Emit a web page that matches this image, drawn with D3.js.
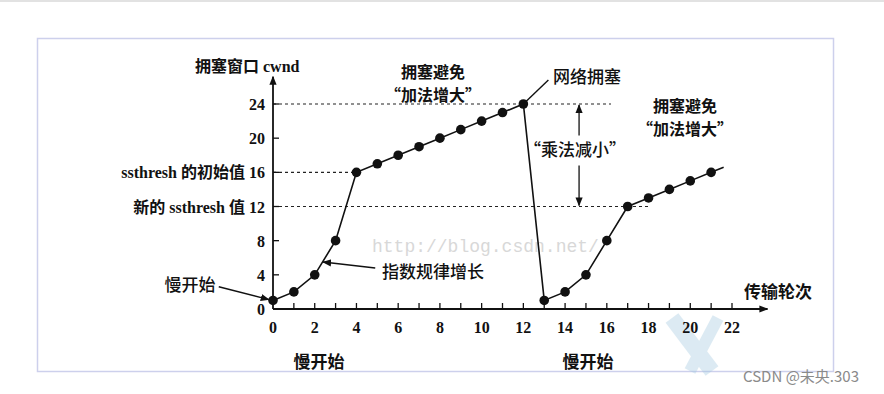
<!DOCTYPE html>
<html><head><meta charset="utf-8">
<script src="https://cdn.jsdelivr.net/npm/d3@7/dist/d3.min.js"></script>
<style>
html,body{margin:0;padding:0;background:#fff;}
svg{display:block;}
</style></head>
<body>
<svg id="chart" width="884" height="394"></svg>
<script>
// ---- data ----
const rounds = [0,1,2,3,4,5,6,7,8,9,10,11,12,13,14,15,16,17,18,19,20,21];
const cwnd   = [1,2,4,8,16,17,18,19,20,21,22,23,24,1,2,4,8,12,13,14,15,16];
const lineTail = [21.6, 16.6];           // line continues past last point
const xTicks = [0,2,4,6,8,10,12,14,16,18,20,22];
const xMinorTicks = [1,2,3,4,5,6,7,8,9,10,11,12,13,14,15,16,17,18,19,20,21,22];
const yTicks = [0,4,8,12,16,20,24];
const yTickLabels = {0:"0",4:"4",8:"8",12:"新的 ssthresh 值 12",16:"ssthresh 的初始值 16",20:"20",24:"24"};
const thresholdLines = [[24, 16.2], [16, 4], [12, 18]]; // [value, end round]
const yAxisTitle = "拥塞窗口 cwnd";
const xAxisTitle = "传输轮次";

const svg = d3.select("#chart");
const x = d3.scaleLinear().domain([0,22]).range([273,732]);
const y = d3.scaleLinear().domain([0,24]).range([309,104]);

const serif = "'Liberation Serif','Noto Sans CJK SC',serif";
const cjk = "'Noto Sans CJK SC','Liberation Serif',sans-serif";

// page decorations
svg.append("rect").attr("x",0).attr("y",0).attr("width",884).attr("height",2).attr("fill","#e2e2e2");
svg.append("rect").attr("x",37.5).attr("y",38.5).attr("width",796).attr("height",333)
  .attr("fill","#fff").attr("stroke","#cdd0ec").attr("stroke-width",1.5);

// faint watermark X
const wm = svg.append("g").attr("opacity",0.35);
wm.append("line").attr("x1",672).attr("y1",318).attr("x2",712).attr("y2",371)
  .attr("stroke","#9cc6de").attr("stroke-width",16);
wm.append("line").attr("x1",718).attr("y1",318).attr("x2",690).attr("y2",371)
  .attr("stroke","#9cc6de").attr("stroke-width",12);
svg.append("text").attr("x",372).attr("y",252).text("http://blog.csdn.net/")
  .attr("font-family","'Liberation Mono',monospace").attr("font-size",18).attr("fill","#d8d8d8");

// markers
const defs = svg.append("defs");
defs.append("marker").attr("id","arr").attr("viewBox","0 0 10 10").attr("refX",9).attr("refY",5)
  .attr("markerWidth",9).attr("markerHeight",9).attr("markerUnits","userSpaceOnUse").attr("orient","auto")
  .append("path").attr("d","M0,1 L10,5 L0,9 Z").attr("fill","#111");

// threshold dashed lines
svg.append("g").selectAll("line").data(thresholdLines).join("line")
  .attr("x1",x(0)).attr("x2",d=>x(d[1])).attr("y1",d=>y(d[0])).attr("y2",d=>y(d[0]))
  .attr("stroke","#222").attr("stroke-width",1.2).attr("stroke-dasharray","3,3");

// axes
svg.append("line").attr("x1",x(0)).attr("y1",y(0)).attr("x2",x(0)).attr("y2",y(27.2))
  .attr("stroke","#111").attr("stroke-width",1.8).attr("marker-end","url(#arr)");
svg.append("line").attr("x1",x(0)).attr("y1",y(0)).attr("x2",x(23.7)).attr("y2",y(0))
  .attr("stroke","#111").attr("stroke-width",1.8).attr("marker-end","url(#arr)");

// x ticks (upward) + labels
svg.append("g").selectAll("line").data(xMinorTicks).join("line")
  .attr("x1",d=>x(d)).attr("x2",d=>x(d)).attr("y1",y(0)).attr("y2",y(0)-6)
  .attr("stroke","#111").attr("stroke-width",1.3);
svg.append("g").selectAll("text").data(xTicks).join("text")
  .attr("x",d=>x(d)).attr("y",y(0)+24).attr("text-anchor","middle")
  .attr("font-family",serif).attr("font-weight","bold").attr("font-size",16).attr("fill","#111")
  .text(d=>d);

// y ticks (right side) + labels
svg.append("g").selectAll("line").data(yTicks.filter(d=>d>0)).join("line")
  .attr("x1",x(0)).attr("x2",x(0)+6).attr("y1",d=>y(d)).attr("y2",d=>y(d))
  .attr("stroke","#111").attr("stroke-width",1.3);
svg.append("g").selectAll("text").data(yTicks).join("text")
  .attr("x",x(0)-8).attr("y",d=>y(d)+6).attr("text-anchor","end")
  .attr("font-family",serif).attr("font-weight","bold").attr("font-size",16).attr("fill","#111")
  .text(d=>yTickLabels[d]);

// axis titles
svg.append("text").attr("x",195).attr("y",72).text(yAxisTitle)
  .attr("font-family",serif).attr("font-weight","bold").attr("font-size",16).attr("fill","#111");
svg.append("text").attr("x",778).attr("y",298).attr("text-anchor","middle").text(xAxisTitle)
  .attr("font-family",cjk).attr("font-weight","bold").attr("font-size",17).attr("fill","#111");

// main line
const pts = rounds.map((r,i)=>[r,cwnd[i]]);
const line = d3.line().x(d=>x(d[0])).y(d=>y(d[1]));
svg.append("path").datum(pts.concat([lineTail])).attr("d",line)
  .attr("fill","none").attr("stroke","#111").attr("stroke-width",1.6);
svg.append("g").selectAll("circle").data(pts).join("circle")
  .attr("cx",d=>x(d[0])).attr("cy",d=>y(d[1])).attr("r",4.8).attr("fill","#111");

// annotations
const t = (tx,ty,s,opts={}) => svg.append("text").attr("x",tx).attr("y",ty).text(s)
  .attr("font-family",opts.font||cjk).attr("font-weight",opts.w||"bold")
  .attr("font-size",opts.size||17).attr("fill","#111").attr("text-anchor",opts.anchor||"start");

// 网络拥塞 leader
svg.append("line").attr("x1",x(12)).attr("y1",y(24)).attr("x2",x(13.2)).attr("y2",y(26.8))
  .attr("stroke","#111").attr("stroke-width",1.4);
t(553,83,"网络拥塞",{w:"500"});

// 拥塞避免 labels
t(433,78,"拥塞避免",{anchor:"middle",size:16});
t(433,101,"“加法增大”",{anchor:"middle",size:16});
t(685,112,"拥塞避免",{anchor:"middle",size:16});
t(685,135,"“加法增大”",{anchor:"middle",size:16});

// 乘法减小 with arrows
const ax = x(14.67);
svg.append("line").attr("x1",ax).attr("x2",ax).attr("y1",y(20.3)).attr("y2",y(24)+1)
  .attr("stroke","#111").attr("stroke-width",1.3).attr("marker-end","url(#arr)");
svg.append("line").attr("x1",ax).attr("x2",ax).attr("y1",y(16.8)).attr("y2",y(12)-1)
  .attr("stroke","#111").attr("stroke-width",1.3).attr("marker-end","url(#arr)");
t(575,156,"“乘法减小”",{anchor:"middle",w:"500"});

// 指数规律增长
svg.append("line").attr("x1",x(4.9)).attr("y1",y(4.8)).attr("x2",x(2.4)).attr("y2",y(5.5))
  .attr("stroke","#111").attr("stroke-width",1.4).attr("marker-end","url(#arr)");
t(382,278,"指数规律增长",{w:"500"});

// 慢开始 (left)
svg.append("line").attr("x1",x(-2.6)).attr("y1",y(2.6)).attr("x2",x(-0.2)).attr("y2",y(1.1))
  .attr("stroke","#111").attr("stroke-width",1.4).attr("marker-end","url(#arr)");
t(190,291,"慢开始",{anchor:"middle",w:"500"});

// 慢开始 bottom labels
t(x(2.2),368,"慢开始",{anchor:"middle"});
t(x(15.1),368,"慢开始",{anchor:"middle"});

// credit
svg.append("text").attr("x",743).attr("y",382).text("CSDN @未央.303")
  .attr("font-family","'Noto Sans CJK SC',sans-serif").attr("font-size",15).attr("fill","#8a8a8a");
</script>
</body></html>
